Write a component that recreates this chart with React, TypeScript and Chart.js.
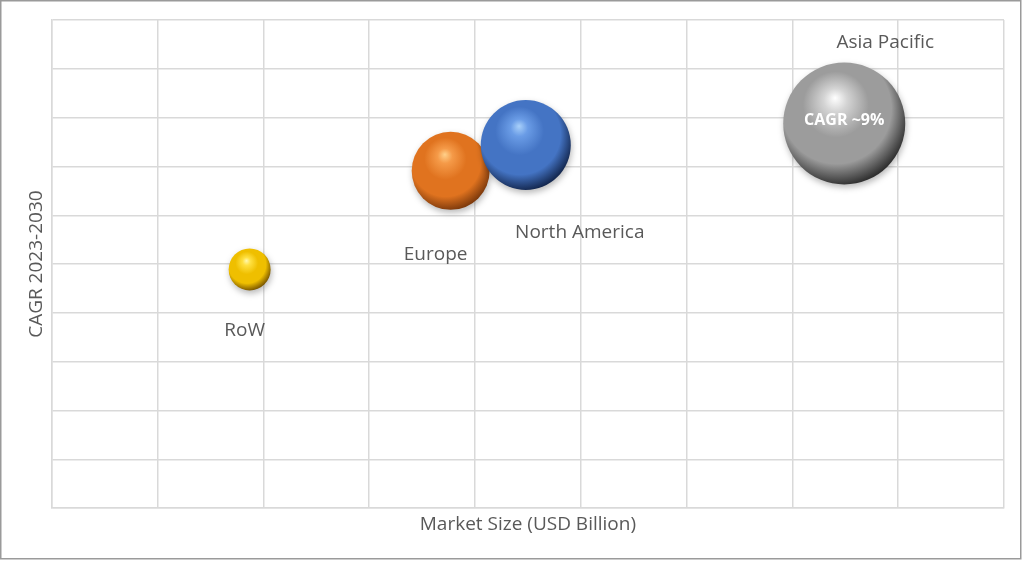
import React, { useEffect, useRef } from "react";
import { Chart, registerables } from "chart.js";

Chart.register(...registerables);

// ---- data ----
const regions = ["RoW", "Europe", "North America", "Asia Pacific"];
const marketSize = [1.87, 3.77, 4.48, 7.49]; // x
const cagr = [4.89, 6.91, 7.44, 7.88]; // y
const bubbleSize = [21, 39, 45, 61]; // r
const innerLabels = ["", "", "", "CAGR ~9%"];

// ---- styles ----
const sphereColors = [
  { hi: "#fff8b0", light: "#ffe040", base: "#efbf00", dark: "#7a5600" },
  { hi: "#ffd08a", light: "#f59a48", base: "#e0731f", dark: "#7e3a0c" },
  { hi: "#a8d0fa", light: "#6a9ce6", base: "#4474c4", dark: "#142850" },
  { hi: "#ffffff", light: "#d4d4d4", base: "#9c9c9c", dark: "#303030" },
];
const labelOffsets = [
  { dx: -5, dy: 61 },
  { dx: -15, dy: 84 },
  { dx: 54, dy: 88 },
  { dx: 41, dy: -81 },
];
const FONT = "'Open Sans', 'Liberation Sans', sans-serif";
const TEXT = "#595959";
const GRID = "#d9d9d9";

const labelPlugin = {
  id: "bubbleLabels",
  beforeDraw(chart: any) {
    const ctx = chart.ctx;
    ctx.save();
    ctx.fillStyle = "#ffffff";
    ctx.fillRect(0, 0, chart.width, chart.height);
    ctx.strokeStyle = "#9a9a9a";
    ctx.lineWidth = 1.5;
    ctx.strokeRect(0.75, 0.75, 1020, 558);
    ctx.restore();
  },
  beforeDatasetsDraw(chart: any) {
    const ctx = chart.ctx;
    ctx.save();
    ctx.shadowColor = "rgba(0,0,0,0.28)";
    ctx.shadowBlur = 6;
    ctx.shadowOffsetX = 1;
    ctx.shadowOffsetY = 3;
  },
  afterDatasetsDraw(chart: any) {
    const ctx = chart.ctx;
    ctx.restore();
    const meta = chart.getDatasetMeta(0);
    ctx.save();
    ctx.textAlign = "center";
    ctx.textBaseline = "middle";
    meta.data.forEach((el: any, i: number) => {
      const off = labelOffsets[i];
      ctx.fillStyle = TEXT;
      ctx.font = `19px ${FONT}`;
      ctx.fillText(regions[i], el.x + off.dx, el.y + off.dy);
      if (innerLabels[i]) {
        ctx.fillStyle = "#ffffff";
        ctx.font = `bold 16px ${FONT}`;
        ctx.fillText(innerLabels[i], el.x, el.y - 3);
      }
    });
    ctx.restore();
  },
};

export default function App() {
  const ref = useRef<HTMLCanvasElement>(null);
  useEffect(() => {
    if (!ref.current) return;
    const chart = new Chart(ref.current, {
      type: "bubble",
      data: {
        datasets: [
          {
            label: "Regions",
            data: regions.map((_, i) => ({ x: marketSize[i], y: cagr[i], r: bubbleSize[i] })),
            borderWidth: 0,
            backgroundColor: (c: any) => {
              const chart = c.chart;
              const raw = c.raw;
              const xs = chart.scales?.x;
              const ys = chart.scales?.y;
              const col = sphereColors[c.dataIndex] || sphereColors[0];
              if (!raw || !xs || !ys) return col.base;
              const cx = xs.getPixelForValue(raw.x);
              const cy = ys.getPixelForValue(raw.y);
              const r = raw.r;
              if (!isFinite(cx) || !isFinite(cy)) return col.base;
              const g = chart.ctx.createRadialGradient(
                cx - r * 0.15, cy - r * 0.42, 0,
                cx - r * 0.12, cy - r * 0.18, r * 1.2
              );
              g.addColorStop(0, col.hi);
              g.addColorStop(0.16, col.light);
              g.addColorStop(0.45, col.base);
              g.addColorStop(0.75, col.base);
              g.addColorStop(1, col.dark);
              return g;
            },
            hoverBorderWidth: 0,
          } as any,
        ],
      },
      options: {
        animation: false,
        responsive: false,
        maintainAspectRatio: false,
        layout: { autoPadding: false, padding: { left: 25, right: 20, top: 20, bottom: 25 } },
        plugins: {
          legend: { display: false },
          tooltip: { enabled: false },
        },
        scales: {
          x: {
            min: 0,
            max: 9,
            ticks: { display: false, stepSize: 1 },
            grid: { color: GRID, lineWidth: 1.5, drawTicks: false },
            border: { color: GRID, width: 1.5 },
            title: {
              display: true,
              text: "Market Size (USD Billion)",
              color: TEXT,
              font: { family: FONT, size: 19 },
              padding: { top: 5, bottom: 0 },
            },
          },
          y: {
            min: 0,
            max: 10,
            ticks: { display: false, stepSize: 1 },
            grid: { color: GRID, lineWidth: 1.5, drawTicks: false },
            border: { color: GRID, width: 1.5 },
            title: {
              display: true,
              text: "CAGR 2023-2030",
              color: TEXT,
              font: { family: FONT, size: 19 },
              padding: { top: 0, bottom: 4 },
            },
          },
        },
      },
      plugins: [labelPlugin],
    });
    return () => chart.destroy();
  }, []);
  return (
    <div style={{ position: "fixed", left: 0, top: 0, width: 1024, height: 561, background: "#fff" }}>
      <canvas ref={ref} width={1024} height={561} style={{ width: 1024, height: 561, display: "block" }} />
    </div>
  );
}
